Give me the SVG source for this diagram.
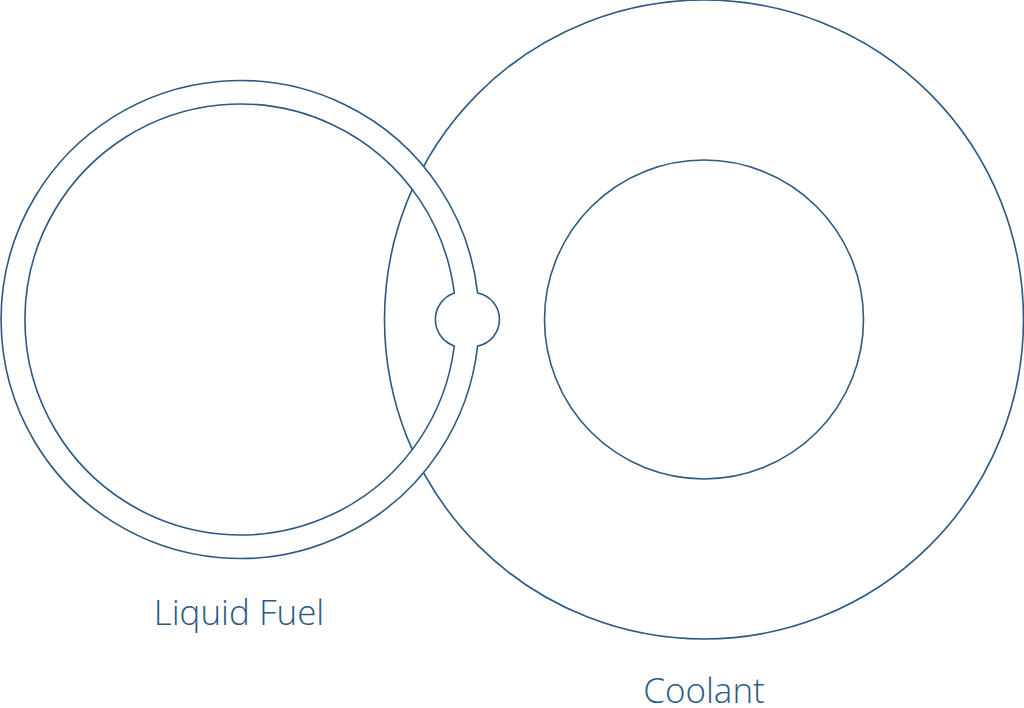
<svg xmlns="http://www.w3.org/2000/svg" width="1024" height="708" viewBox="0 0 1024 708">
<style>
.s{fill:none;stroke:#2b5a84;stroke-width:1.6}
.ring{fill:#fff;fill-rule:evenodd;stroke:#2b5a84;stroke-width:1.6}
.t{font-family:"Open Sans","Liberation Sans",sans-serif;font-weight:300;font-size:35px;fill:#2b5a84;text-anchor:middle}
</style>
<rect width="1024" height="708" fill="#fff"/>
<g id="coolant">
<circle class="s" cx="704" cy="319.5" r="319.5"/>
<circle class="s" cx="704" cy="319.5" r="159.5"/>
<text class="t" x="704" y="703">Coolant</text>
</g>
<g id="liquid-fuel">
<path class="ring" d="M454.3,293 A215.5,215.5 0 1 0 454.3,346 A28,28 0 0 1 454.3,293 Z M477.6,293 A239,239 0 1 0 477.6,346 A27,27 0 0 0 477.6,293 Z"/>
<text class="t" x="239" y="625">Liquid Fuel</text>
</g>
</svg>
